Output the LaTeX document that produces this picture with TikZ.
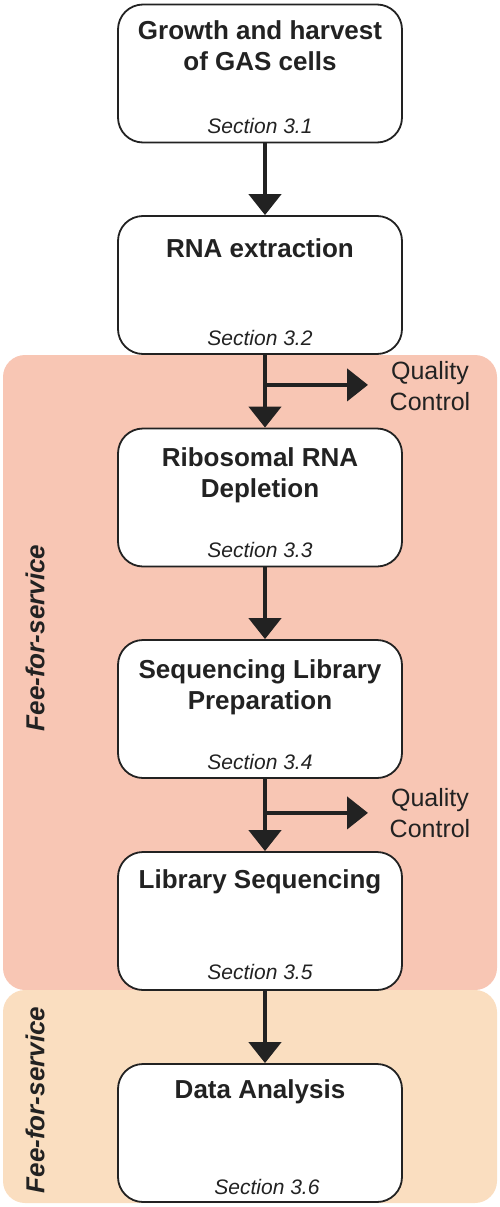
\documentclass[tikz,border=0pt]{standalone}
\usepackage{fontspec}
\setmainfont{Liberation Sans}
\usetikzlibrary{arrows.meta}
\definecolor{salmon}{RGB}{248,198,180}
\definecolor{peach}{RGB}{250,222,192}
\definecolor{ink}{RGB}{34,34,34}
\tikzset{
  stepbox/.style={draw=ink, line width=1.8pt, fill=white, rounded corners=25pt,
    minimum width=284pt, minimum height=138pt, inner sep=0pt},
  ttl/.style={font=\fontsize{26}{31}\selectfont\bfseries, text=ink, align=center, inner sep=0pt},
  sec/.style={font=\fontsize{21}{25}\selectfont\itshape, text=ink, inner sep=0pt},
  qc/.style={font=\fontsize{25}{31}\selectfont, text=ink, align=center, inner sep=0pt},
  fee/.style={font=\fontsize{26}{30}\selectfont\bfseries\itshape, text=ink, rotate=90, inner sep=0pt},
  arr/.style={draw=ink, line width=4.5pt, -{Triangle[width=32pt,length=21pt]}},
  region/.style={rounded corners=22pt}
}
\begin{document}
\begin{tikzpicture}[x=1pt,y=-1pt]
\useasboundingbox (0,0) rectangle (500,1207);
% background regions
\fill[salmon, region] (3,355) rectangle (497,990);
\fill[peach, region] (3,990) rectangle (497,1203);
\node[fee] (fee1) at (35,638) {Fee-for-service};
\node[fee] (fee2) at (35,1100) {Fee-for-service};
% boxes
\node[stepbox] (b1) at (260,73.5) {};
\node[stepbox] (b2) at (260,285) {};
\node[stepbox] (b3) at (260,497.5) {};
\node[stepbox] (b4) at (260,709) {};
\node[stepbox] (b5) at (260,921) {};
\node[stepbox] (b6) at (260,1133) {};
% titles
\node[ttl] (t1) at (260,45.5) {Growth and harvest\\of GAS cells};
\node[ttl] (t2) at (260,248) {RNA extraction};
\node[ttl] (t3) at (260,475.5) {Ribosomal RNA\\Depletion};
\node[ttl] (t4) at (260,687.5) {Sequencing Library\\Preparation};
\node[ttl] (t5) at (260,882) {Library Sequencing};
\node[ttl] (t6) at (260,1092) {Data Analysis};
% sections
\node[sec] (s1) at (260,126) {Section 3.1};
\node[sec] (s2) at (260,338) {Section 3.2};
\node[sec] (s3) at (260,550) {Section 3.3};
\node[sec] (s4) at (260,762) {Section 3.4};
\node[sec] (s5) at (260,972) {Section 3.5};
\node[sec] (s6) at (267,1187) {Section 3.6};
% QC labels
\node[qc] (q1) at (430,386.5) {Quality\\Control};
\node[qc] (q2) at (430,813) {Quality\\Control};
% connectors
\draw[arr] ([xshift=5pt]b1.south) -- ([xshift=5pt]b2.north);
\coordinate (br1) at ([xshift=5pt,yshift=-30pt]b2.south);
\coordinate (qe1) at (368,384);
\draw[arr] ([xshift=5pt]b2.south) -- ([xshift=5pt]b3.north);
\draw[arr] (br1) -- (qe1 |- br1);
\draw[arr] ([xshift=5pt]b3.south) -- ([xshift=5pt]b4.north);
\coordinate (br2) at ([xshift=5pt,yshift=-34pt]b4.south);
\coordinate (qe2) at (368,812);
\draw[arr] ([xshift=5pt]b4.south) -- ([xshift=5pt]b5.north);
\draw[arr] (br2) -- (qe2 |- br2);
\draw[arr] ([xshift=5pt]b5.south) -- ([xshift=5pt]b6.north);
\end{tikzpicture}
\end{document}
